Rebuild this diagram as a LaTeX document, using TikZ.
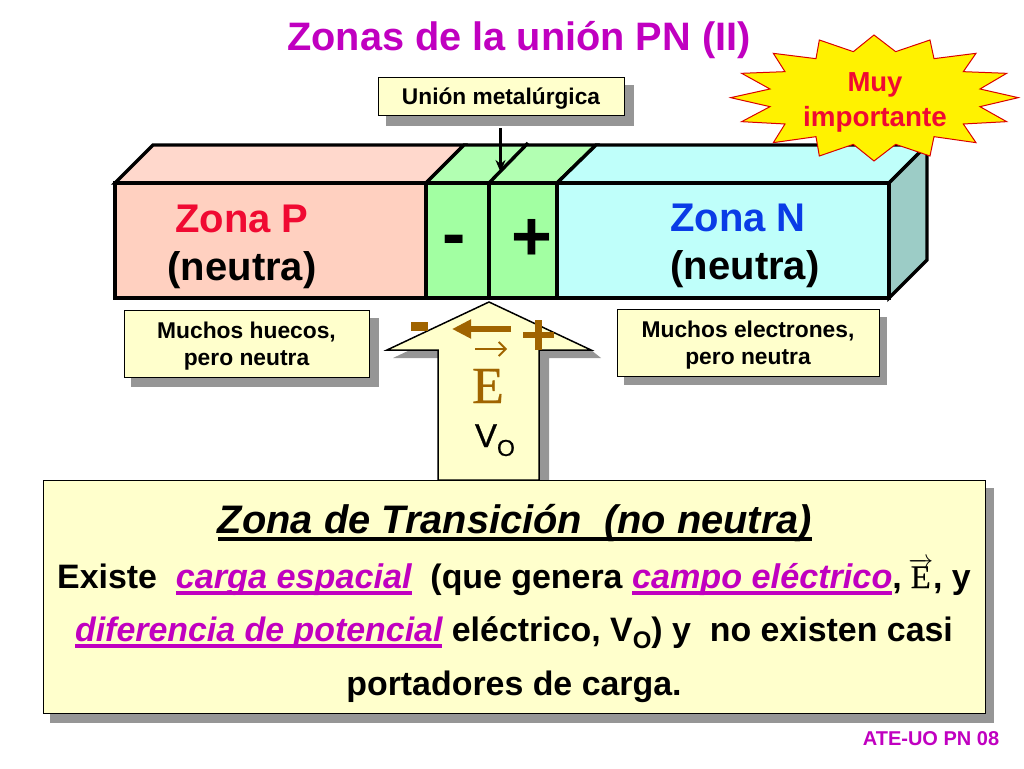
\documentclass[tikz,border=0pt]{standalone}
\usepackage{fontspec}
\setmainfont{Liberation Sans}
\newfontfamily\serifE[FakeBold=0.5]{Liberation Serif}
\newfontfamily\voFont[FakeBold=0.8]{Liberation Sans}
\usetikzlibrary{arrows.meta}
\definecolor{boxy}{HTML}{FFFFCC}
\definecolor{shad}{HTML}{969696}
\definecolor{mag}{HTML}{C000C0}
\definecolor{brn}{HTML}{A06400}
\definecolor{pinkF}{HTML}{FFD0C0}
\definecolor{pinkT}{HTML}{FFD8CC}
\definecolor{greenF}{HTML}{A2FFA2}
\definecolor{greenT}{HTML}{B2FFB2}
\definecolor{cyanF}{HTML}{BFFFFA}
\definecolor{sideC}{HTML}{9CCCC6}
\definecolor{redZ}{HTML}{F00A32}
\definecolor{blueZ}{HTML}{0A3CE6}
\newcommand\fs[1]{\fontsize{#1}{#1}\selectfont}
\newcommand\ulx[1]{\leavevmode\setbox0\hbox{#1}\rlap{\raisebox{-0.2em}{\rule{\wd0}{0.1em}}}\box0}
\tikzset{
  block/.style={draw=black,line width=3.4pt,line join=miter},
  note/.style={draw=black,line width=1.2pt,fill=boxy},
  shadowbox/.style={fill=shad,draw=none},
  txt/.style={inner sep=0pt,outer sep=0pt,anchor=base,font=\bfseries},
  notetxt/.style={txt,font=\bfseries\fs{22.8}},
  plain/.style={inner sep=0pt,outer sep=0pt}
}
\begin{document}
\begin{tikzpicture}[x=1pt,y=-1pt]
\useasboundingbox (0,0) rectangle (1024,768);
% block
\draw[block,fill=pinkT] (115,183) -- (153,145) -- (464,145) -- (426,183) -- cycle;
\draw[block,fill=greenT] (426,183) -- (464,145) -- (596,145) -- (557,183) -- cycle;
\draw[block,fill=cyanF] (557,183) -- (596,145) -- (927,145) -- (889,183) -- cycle;
\draw[block,fill=sideC] (889,183) -- (927,145) -- (927,260) -- (889,298) -- cycle;
\draw[block,fill=pinkF] (115,183) rectangle (426,298);
\draw[block,fill=cyanF] (557,183) rectangle (889,298);
\draw[block,fill=greenF] (426,183) rectangle (489,298);
\draw[block,fill=greenF] (489,183) rectangle (557,298);
% star
\begin{scope}[shift={(720,20)},x=0.3333pt,y=-0.3333pt]
\draw[draw=red!85!black,line width=1pt,fill=yellow,line join=miter]
 (462,45)--(527,95)--(630,60)--(642,116)--(768,100)--(730,155)--(860,160)--(780,207)--(895,233)--(780,260)--(860,305)--(730,312)--(768,368)--(642,350)--(630,408)--(527,373)--(462,423)--(400,373)--(298,408)--(288,350)--(160,368)--(195,312)--(65,305)--(150,260)--(32,233)--(150,207)--(65,160)--(195,155)--(160,100)--(288,116)--(298,60)--(400,95)--cycle;
\end{scope}
\node[txt,text=redZ,font=\bfseries\fs{27.5}] (muy) at (875,91) {Muy};
\node[txt,text=redZ,font=\bfseries\fs{27.8}] (imp) at (875,126) {importante};
% title
\node[txt,text=mag,font=\bfseries\fs{39.7}] (title) at (519,51) {Zonas de la unión PN (II)};
% union box
\fill[shadowbox] (386,85) rectangle (634,126);
\node[note,minimum width=246pt,minimum height=38pt,inner sep=0pt,anchor=north west] (union) at (378,77) {};
\node[txt,font=\bfseries\fs{22.7}] (unionT) at (501,104) {Unión metalúrgica};
\coordinate (unionTail) at (500.5,128);
\coordinate (unionHead) at (500.5,172);
\draw[line width=3pt,-{Stealth[length=12pt,width=10pt]}] (unionTail) -- (unionHead);
\coordinate (divB) at (489,183);
\coordinate (divT) at (528,143);
\draw[block] (divB) -- (divT);
% zone labels
\node[txt,text=redZ,font=\bfseries\fs{40}] (zp) at (242,232) {Zona P};
\node[txt,font=\bfseries\fs{40}] (np) at (242,280) {(neutra)};
\node[txt,text=blueZ,font=\bfseries\fs{40}] (zn) at (738,231) {Zona N};
\node[txt,font=\bfseries\fs{40}] (nn) at (745,279) {(neutra)};
\node[txt,font=\bfseries\fs{70}] (minus) at (454,257) {-};
\node[txt,font=\bfseries\fs{70}] (plus) at (532,260) {+};
% notes
\fill[shadowbox] (131,318) rectangle (379,387);
\node[note,minimum width=245pt,minimum height=67pt,inner sep=0pt,anchor=north west] (huecos) at (124,310) {};
\node[notetxt] (h1) at (246.5,338) {Muchos huecos,};
\node[notetxt] (h2) at (246.5,365) {pero neutra};
\fill[shadowbox] (624,317) rectangle (887,385);
\node[note,minimum width=262pt,minimum height=67pt,inner sep=0pt,anchor=north west] (electrones) at (617,309) {};
\node[notetxt] (e1) at (748,337) {Muchos electrones,};
\node[notetxt] (e2) at (748,364) {pero neutra};
% up arrow
\fill[shadowbox] (393,358) -- (410,350) -- (591,350) -- (601,358) -- (549,358) -- (549,490) -- (448,490) -- (448,358) -- cycle;
\draw[note,line width=1.5pt,line join=miter] (438,480) -- (438,350) -- (387,350) -- (489,302) -- (591,350) -- (539,350) -- (539,480) -- cycle;
\fill[brn] (411,322) rectangle (428,331);
\fill[brn] (535,320) rectangle (542,350);
\fill[brn] (523,332) rectangle (554,338);
\coordinate (ebarR) at (511,329);
\coordinate (ebarL) at (452,329);
\draw[brn,line width=6pt,-{Triangle[length=19pt,width=18pt]}] (ebarR) -- (ebarL);
\node[plain,anchor=base,text=brn,font=\serifE\fs{52}] (efield) at (488,403) {E};
\coordinate (evL) at (475,349);
\coordinate (evR) at (507,349);
\draw[brn,line width=1.8pt,-{Straight Barb[length=7pt,width=14pt]}] (evL) -- (evR);
\node[plain,anchor=base west,font=\voFont\fs{33}] (vo) at (475,447) {V\raisebox{-0.27em}{\fs{23}O}};
% main box
\fill[shadowbox] (50,488) rectangle (994,723);
\node[note,minimum width=942pt,minimum height=233pt,inner sep=0pt,anchor=north west] (main) at (43,480) {};
\node[txt,font=\bfseries\itshape\fs{39.8}] (m1) at (515,533) {\ulx{Zona de Transición\ \ (no neutra)}};
\node[txt,font=\bfseries\fs{33.9}] (m2) at (514,588) {Existe\ \ {\color{mag}\itshape\fs{34.2}\ulx{carga espacial}}\ \ (que genera {\color{mag}\itshape\fs{34.2}\ulx{campo eléctrico}},\hspace{-3pt} $\overrightarrow{\hbox{\normalfont\serifE\fs{33}E}}$, y};
\node[txt,font=\bfseries\fs{33.9}] (m3) at (514,641) {{\color{mag}\itshape\ulx{diferencia de potencial}} eléctrico, V\raisebox{-0.22em}{\fs{24}O}) y\ \ no existen casi};
\node[txt,font=\bfseries\fs{33.9}] (m4) at (514,695) {portadores de carga.};
\node[txt,text=mag,font=\bfseries\fs{20}] (ate) at (931,745) {ATE-UO PN 08};
\end{tikzpicture}
\end{document}
